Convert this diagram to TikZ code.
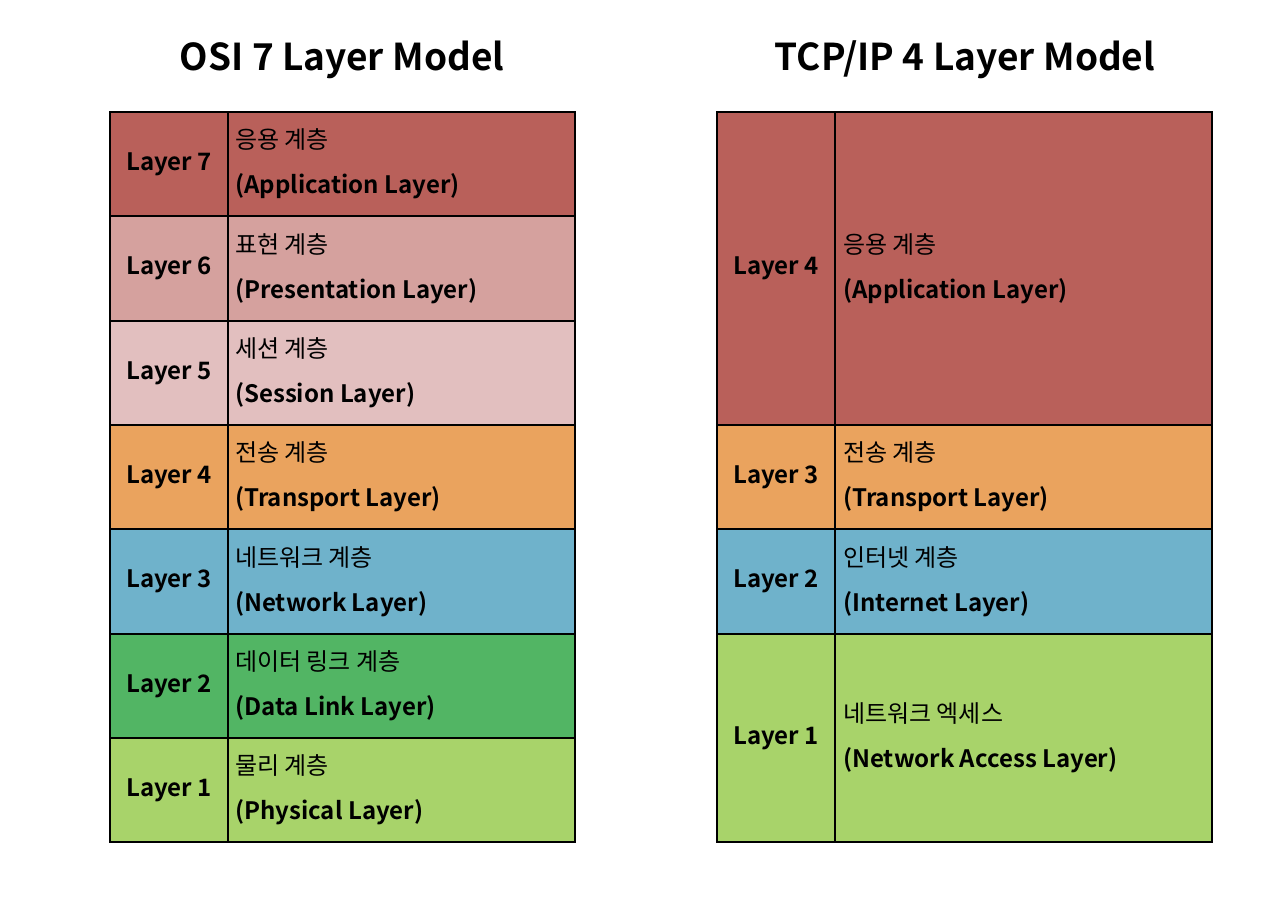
\documentclass[tikz,border=0pt]{standalone}
\usepackage{fontspec}
\setmainfont{Noto Sans CJK KR}[BoldFont={Noto Sans CJK KR Bold}]
\definecolor{cA}{HTML}{B9605A}
\definecolor{cB}{HTML}{D5A19E}
\definecolor{cC}{HTML}{E2BFBF}
\definecolor{cD}{HTML}{EAA35E}
\definecolor{cE}{HTML}{6FB2CB}
\definecolor{cF}{HTML}{52B564}
\definecolor{cG}{HTML}{A8D36A}
\tikzset{cell/.style={draw=black,line width=1.2pt},
 lab/.style={font=\fontsize{24}{28}\selectfont\bfseries,anchor=center,inner sep=0pt},
 txt/.style={font=\fontsize{24}{45}\selectfont,anchor=west,align=left,inner sep=0pt},
 ttl/.style={font=\fontsize{37}{44}\selectfont\bfseries}}
\begin{document}
\begin{tikzpicture}[x=1pt,y=-1pt]
\useasboundingbox (0,0) rectangle (1280,905);
\node[ttl] (t1) at (342,60) {OSI 7 Layer Model};
\node[ttl] (t2) at (965,60) {TCP/IP 4 Layer Model};
\foreach \t/\b/\c/\n/\k/\e [count=\i] in {
 112/216/cA/7/응용 계층/Application Layer,
 216/321/cB/6/표현 계층/Presentation Layer,
 321/425/cC/5/세션 계층/Session Layer,
 425/529/cD/4/전송 계층/Transport Layer,
 529/634/cE/3/네트워크 계층/Network Layer,
 634/738/cF/2/데이터 링크 계층/Data Link Layer,
 738/842/cG/1/물리 계층/Physical Layer}{
 \filldraw[cell,fill=\c] (110,\t) rectangle (228,\b);
 \filldraw[cell,fill=\c] (228,\t) rectangle (575,\b);
 \node[lab] (ol\i) at (169,{(\t+\b)/2}) {Layer \n};
 \node[txt] (ot\i) at (235,{(\t+\b)/2}) {\k\\\textbf{(\e)}};
}
\foreach \t/\b/\c/\n/\k/\e [count=\i] in {
 112/425/cA/4/응용 계층/Application Layer,
 425/529/cD/3/전송 계층/Transport Layer,
 529/634/cE/2/인터넷 계층/Internet Layer,
 634/842/cG/1/네트워크 엑세스/Network Access Layer}{
 \filldraw[cell,fill=\c] (717,\t) rectangle (835,\b);
 \filldraw[cell,fill=\c] (835,\t) rectangle (1212,\b);
 \node[lab] (tl\i) at (776,{(\t+\b)/2}) {Layer \n};
 \node[txt] (tt\i) at (843,{(\t+\b)/2}) {\k\\\textbf{(\e)}};
}
\end{tikzpicture}
\end{document}
